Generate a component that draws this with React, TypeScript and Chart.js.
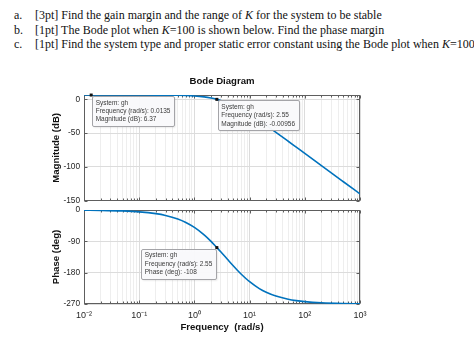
import React, { useEffect, useRef } from 'react';
import { Chart, registerables } from 'chart.js';

Chart.register(...registerables);

// ---------- data ----------
const frequencies = [0.01, 0.02, 0.05, 0.1, 0.2, 0.3, 0.5, 0.7, 1, 1.5, 2, 2.55, 3, 4, 5, 6, 7, 10, 15, 20, 30, 50, 70, 100, 200, 500, 1000];
const magnitudeDb = [6.375, 6.374, 6.371, 6.36, 6.316, 6.243, 6.01, 5.68, 5.02, 3.6, 1.94, -0.0096, -1.65, -5.22, -8.61, -11.75, -14.67, -22.15, -31.59, -38.65, -48.89, -62.03, -70.76, -80.02, -98.07, -121.94, -140.0];
const phaseDeg = [-0.525, -1.05, -2.63, -5.25, -10.48, -15.68, -25.93, -35.87, -50.06, -71.46, -90.0, -107.8, -119.74, -142.13, -159.35, -172.88, -183.71, -205.93, -225.67, -236.28, -247.28, -256.29, -260.19, -263.13, -266.56, -268.63, -269.31];

const xTickValues = [0.01, 0.1, 1, 10, 100, 1000];
const xTickLabels = ['10⁻²', '10⁻¹', '10⁰', '10¹', '10²', '10³'];
const magTicks = [0, -50, -100, -150];
const phaseTicks = [0, -90, -180, -270];

const magTips = [
  { x: 0.0135, y: 6.37, lines: ['System: gh', 'Frequency (rad/s): 0.0135', 'Magnitude (dB): 6.37'] },
  { x: 2.55, y: -0.00956, lines: ['System: gh', 'Frequency (rad/s): 2.55', 'Magnitude (dB): -0.00956'] },
];
const phaseTips = [
  { x: 2.55, y: -108, lines: ['System: gh', 'Frequency (rad/s): 2.55', 'Phase (deg): -108'] },
];

// ---------- styling ----------
const SANS = '"Liberation Sans", Arial, Helvetica, sans-serif';
const LINE_BLUE = '#0072BD';
const FRAME = '#5e5e5e';
const GRID_MAJOR = '#dcdcdc';
const GRID_MINOR = '#eeeeee';
const TICK_TEXT = '#262626';

const isPow10 = (v: number) => {
  const l = Math.log10(v);
  return Math.abs(l - Math.round(l)) < 1e-6;
};

const keepIntegerMantissa = (scale: any) => {
  scale.ticks = scale.ticks.filter((t: any) => {
    const e = Math.floor(Math.log10(t.value) + 1e-9);
    const m = t.value / Math.pow(10, e);
    return Math.abs(m - Math.round(m)) < 1e-6;
  });
};

const framePlugin = {
  id: 'bodeFrame',
  beforeDatasetsDraw(chart: any) {
    const { ctx, chartArea: a, scales } = chart;
    ctx.save();
    ctx.strokeStyle = FRAME;
    ctx.lineWidth = 1;
    const line = (x1: number, y1: number, x2: number, y2: number) => {
      ctx.beginPath();
      ctx.moveTo(x1, y1);
      ctx.lineTo(x2, y2);
      ctx.stroke();
    };
    const top = Math.round(a.top) + 0.5;
    const bottom = Math.round(a.bottom) - 0.5;
    const left = Math.round(a.left) + 0.5;
    const right = Math.round(a.right) - 0.5;
    for (const t of scales.x.ticks) {
      const px = Math.round(scales.x.getPixelForValue(t.value)) + 0.5;
      const len = isPow10(t.value) ? 3 : 2;
      line(px, top, px, top + len);
      line(px, bottom, px, bottom - len);
    }
    for (const t of scales.y.ticks) {
      const py = Math.round(scales.y.getPixelForValue(t.value)) + 0.5;
      line(left, py, left + 3, py);
      line(right, py, right - 3, py);
    }
    ctx.strokeRect(left, top, right - left, bottom - top);
    ctx.restore();
  },
};

const makeTipPlugin = (tips: { x: number; y: number; lines: string[] }[], sides: ('left' | 'right')[]) => ({
  id: 'dataTips',
  afterDatasetsDraw(chart: any) {
    const { ctx, scales } = chart;
    ctx.save();
    ctx.font = `6.5px ${SANS}`;
    tips.forEach((tip, k) => {
      const px = scales.x.getPixelForValue(tip.x);
      const py = scales.y.getPixelForValue(tip.y);
      const w = Math.max(...tip.lines.map((l) => ctx.measureText(l).width)) + 7;
      const lh = 8.2;
      const h = tip.lines.length * lh + 5;
      const bx = sides[k] === 'left' ? px - 1 - w : px + 1;
      const by = py + 1;
      ctx.save();
      ctx.shadowColor = 'rgba(0,0,0,0.12)';
      ctx.shadowBlur = 2;
      ctx.shadowOffsetX = 1;
      ctx.shadowOffsetY = 1;
      ctx.beginPath();
      (ctx as any).roundRect(Math.round(bx) + 0.5, Math.round(by) + 0.5, Math.round(w), Math.round(h), 1.5);
      ctx.fillStyle = 'rgba(250,250,252,0.97)';
      ctx.fill();
      ctx.restore();
      ctx.beginPath();
      (ctx as any).roundRect(Math.round(bx) + 0.5, Math.round(by) + 0.5, Math.round(w), Math.round(h), 1.5);
      ctx.strokeStyle = '#a4a4a8';
      ctx.lineWidth = 1;
      ctx.stroke();
      ctx.fillStyle = '#3a3a3a';
      ctx.textBaseline = 'middle';
      ctx.textAlign = 'left';
      tip.lines.forEach((l, i) => ctx.fillText(l, bx + 3.5, by + 7 + i * lh));
      ctx.fillStyle = '#111';
      ctx.fillRect(px - 1.5, py - 1.5, 3, 3);
    });
    ctx.restore();
  },
});

const xGridColor = (c: any) => (c.tick && isPow10(c.tick.value) ? GRID_MAJOR : GRID_MINOR);

const xLabel = (v: any) => {
  const i = xTickValues.findIndex((t) => Math.abs(t - Number(v)) / t < 1e-6);
  return i >= 0 ? xTickLabels[i] : '';
};

export default function App() {
  const magRef = useRef<HTMLCanvasElement>(null);
  const phaseRef = useRef<HTMLCanvasElement>(null);

  useEffect(() => {
    Chart.defaults.font.family = SANS;

    const magChart = new Chart(magRef.current as HTMLCanvasElement, {
      type: 'line',
      data: {
        datasets: [
          {
            data: frequencies.map((f, i) => ({ x: f, y: magnitudeDb[i] })),
            borderColor: LINE_BLUE,
            borderWidth: 1.6,
            pointRadius: 0,
            cubicInterpolationMode: 'monotone',
            fill: false,
          },
        ],
      },
      options: {
        responsive: false,
        animation: false,
        events: [],
        layout: { padding: { left: 45, right: 114, top: 10, bottom: 0 } },
        plugins: {
          legend: { display: false },
          tooltip: { enabled: false },
          title: {
            display: true,
            text: 'Bode Diagram',
            fullSize: false,
            color: '#111',
            font: { size: 9.6, weight: 'bold', family: SANS },
            padding: { top: 6, bottom: 7.5 },
          },
        },
        scales: {
          x: {
            type: 'logarithmic',
            min: 0.01,
            max: 1000,
            afterBuildTicks: keepIntegerMantissa,
            afterFit: (s: any) => { s.height = 14.3; },
            ticks: { display: false },
            grid: { color: xGridColor, drawTicks: false, lineWidth: 1 },
            border: { display: false },
          },
          y: {
            min: -150,
            max: 6.4,
            afterBuildTicks: (s: any) => { s.ticks = magTicks.map((v) => ({ value: v })); },
            afterFit: (s: any) => { s.width = 39; },
            ticks: { color: TICK_TEXT, font: { size: 8.3, family: SANS }, padding: 4 },
            grid: { color: GRID_MAJOR, drawTicks: false },
            border: { display: false },
            title: {
              display: true,
              text: 'Magnitude (dB)',
              color: '#111',
              font: { size: 9.6, weight: 'bold', family: SANS },
              padding: { top: 6, bottom: 0 },
            },
          },
        },
      } as any,
      plugins: [framePlugin, makeTipPlugin(magTips, ['right', 'right'])],
    } as any);

    const phaseChart = new Chart(phaseRef.current as HTMLCanvasElement, {
      type: 'line',
      data: {
        datasets: [
          {
            data: frequencies.map((f, i) => ({ x: f, y: phaseDeg[i] })),
            borderColor: LINE_BLUE,
            borderWidth: 1.6,
            pointRadius: 0,
            cubicInterpolationMode: 'monotone',
            fill: false,
          },
        ],
      },
      options: {
        responsive: false,
        animation: false,
        events: [],
        layout: { padding: { left: 45, right: 114, top: 14, bottom: 0 } },
        plugins: { legend: { display: false }, tooltip: { enabled: false } },
        scales: {
          x: {
            type: 'logarithmic',
            min: 0.01,
            max: 1000,
            afterBuildTicks: keepIntegerMantissa,
            afterFit: (s: any) => { s.height = 48; },
            ticks: {
              autoSkip: false,
              maxRotation: 0,
              color: TICK_TEXT,
              font: { size: 9, family: SANS },
              padding: 6.5,
              callback: xLabel,
            },
            grid: { color: xGridColor, drawTicks: false, lineWidth: 1 },
            border: { display: false },
            title: {
              display: true,
              text: 'Frequency  (rad/s)',
              color: '#111',
              font: { size: 9.6, weight: 'bold', family: SANS },
              padding: { top: 0, bottom: 19 },
            },
          },
          y: {
            min: -270,
            max: 0,
            afterBuildTicks: (s: any) => { s.ticks = phaseTicks.map((v) => ({ value: v })); },
            afterFit: (s: any) => { s.width = 39; },
            ticks: { color: TICK_TEXT, font: { size: 8.3, family: SANS }, padding: 4 },
            grid: { color: GRID_MAJOR, drawTicks: false },
            border: { display: false },
            title: {
              display: true,
              text: 'Phase (deg)',
              color: '#111',
              font: { size: 9.6, weight: 'bold', family: SANS },
              padding: { top: 6, bottom: 0 },
            },
          },
        },
      } as any,
      plugins: [framePlugin, makeTipPlugin(phaseTips, ['left'])],
    } as any);

    return () => {
      magChart.destroy();
      phaseChart.destroy();
    };
  }, []);

  const serif: React.CSSProperties = {
    position: 'absolute',
    fontFamily: '"Liberation Serif", "Times New Roman", serif',
    fontSize: 12,
    lineHeight: '14px',
    color: '#111',
    whiteSpace: 'nowrap',
  };

  return (
    <div style={{ position: 'fixed', left: 0, top: 0, width: 474, height: 352, background: '#fff', overflow: 'hidden' }}>
      <div style={{ ...serif, left: 14, top: 8 }}>a.</div>
      <div style={{ ...serif, left: 35, top: 8 }}>
        [3pt] Find the gain margin and the range of <i>K</i> for the system to be stable
      </div>
      <div style={{ ...serif, left: 14, top: 22.5 }}>b.</div>
      <div style={{ ...serif, left: 35, top: 22.5 }}>
        [1pt] The Bode plot when <i>K</i>=100 is shown below. Find the phase margin
      </div>
      <div style={{ ...serif, left: 14, top: 37 }}>c.</div>
      <div style={{ ...serif, left: 35, top: 37 }}>
        [1pt] Find the system type and proper static error constant using the Bode plot when <i>K</i>=100
      </div>
      <canvas ref={magRef} width={474} height={155} style={{ position: 'absolute', left: 0, top: 60, width: 474, height: 155 }} />
      <canvas ref={phaseRef} width={474} height={156} style={{ position: 'absolute', left: 0, top: 196, width: 474, height: 156 }} />
    </div>
  );
}
